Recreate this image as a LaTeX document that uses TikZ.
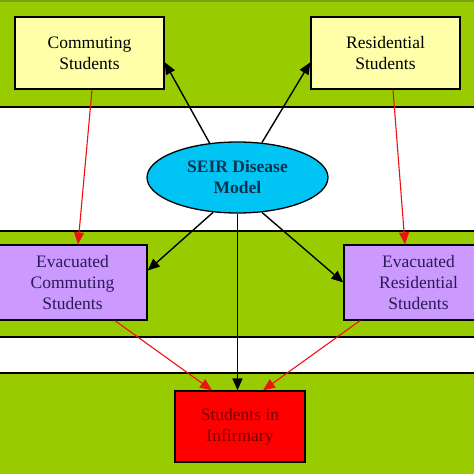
\documentclass[tikz,border=0pt]{standalone}
\usepackage{fontspec}
\setmainfont{Liberation Serif}
\usetikzlibrary{shapes.geometric,arrows.meta}
\definecolor{band}{HTML}{99CC00}
\definecolor{bandtop}{HTML}{7F9F10}
\definecolor{yellowbox}{HTML}{FFFFAA}
\definecolor{lilacbox}{HTML}{CC99FF}
\definecolor{seirblue}{HTML}{00C4F4}
\definecolor{seirtext}{HTML}{0B3350}
\definecolor{lilactext}{HTML}{2A1A55}
\definecolor{redtext}{HTML}{7A0000}
\definecolor{redline}{HTML}{EE1111}
\tikzset{
  box/.style={draw,line width=1.3pt,align=center,inner sep=0pt,
    font=\fontsize{17.5}{21}\selectfont},
  studentbox/.style={box,fill=yellowbox,minimum width=149pt,minimum height=72pt},
  evacbox/.style={box,fill=lilacbox,text=lilactext,minimum width=149pt,minimum height=75pt},
  modelnode/.style={box,ellipse,fill=seirblue,text=seirtext,minimum width=181pt,minimum height=71pt,
    font=\fontsize{17.5}{21}\selectfont\bfseries},
  infirmbox/.style={box,fill=red,text=redtext,minimum width=130pt,minimum height=71pt},
  modelarrow/.style={-{Triangle[length=12pt,width=10pt]},line width=1.4pt},
  movearrow/.style={-{Triangle[length=12pt,width=10pt]},line width=1.1pt,redline}
}
\begin{document}
\begin{tikzpicture}[x=1pt,y=-1pt]
    \useasboundingbox (0,0) rectangle (474,474);
    %bands
    \fill [band] (0,0) rectangle (474,107);
    \fill [band] (0,231) rectangle (474,337);
    \fill [band] (0,373) rectangle (474,474);
    \draw [bandtop,line width=2pt] (0,1) -- (474,1);
    \foreach \y in {107,231,337,373}
        \draw [line width=1.2pt] (0,\y) -- (474,\y);
    %nodes
    \node [studentbox] (comm) at (89.5,53) {Commuting\\Students};
    \node [studentbox] (resi) at (385.5,53) {Residential\\Students};
    \node [modelnode] (seir) at (237.5,177.5) {SEIR Disease\\Model};
    \node [evacbox] (evcomm) at (72.5,282.5) {Evacuated\\Commuting\\Students};
    \node [evacbox] (evresi) at (418.5,282.5) {Evacuated\\Residential\\Students};
    \node [infirmbox] (infirm) at (240,426.5) {Students in\\Infirmary};
    %draw arrows
    \draw [modelarrow] (seir.129) -- (comm.-7);
    \draw [modelarrow] (seir.55) -- (resi.187);
    \draw [modelarrow] (seir.235) -- (evcomm.9.5);
    \draw [modelarrow] (seir.305) -- (evresi.west);
    \draw [modelarrow] (seir.south) -- (seir.south |- infirm.north);
    \draw [movearrow] ([xshift=2.5pt]comm.south) -- ([xshift=5.5pt]evcomm.north);
    \draw [movearrow] ([xshift=7.5pt]resi.south) -- ([xshift=-13.5pt]evresi.north);
    \draw [movearrow] ([xshift=42.5pt]evcomm.south) -- ([xshift=-28pt]infirm.north);
    \draw [movearrow] ([xshift=-58.5pt]evresi.south) -- ([xshift=23pt]infirm.north);
\end{tikzpicture}
\end{document}
